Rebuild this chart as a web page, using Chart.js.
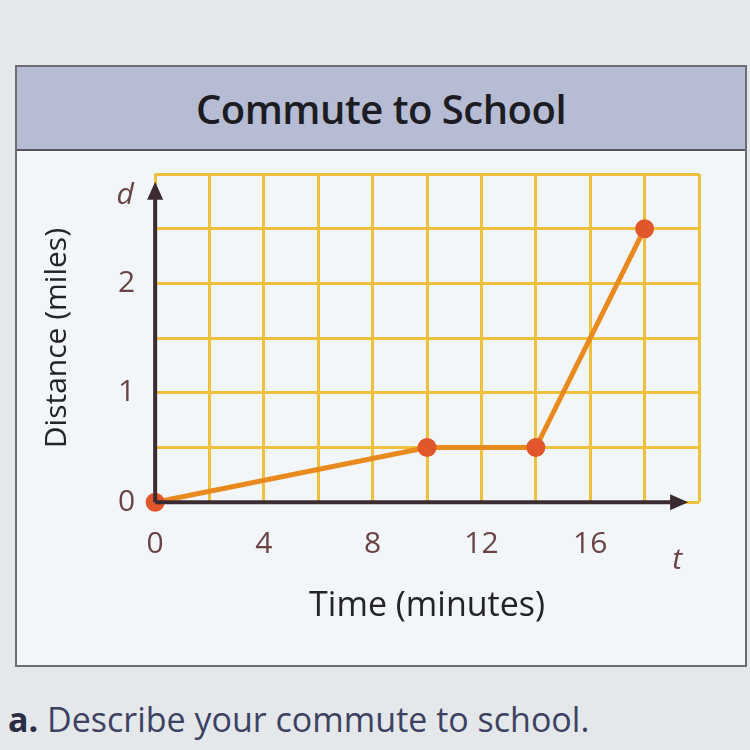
<!DOCTYPE html>
<html>
<head>
<meta charset="utf-8">
<script src="https://cdn.jsdelivr.net/npm/chart.js@4/dist/chart.umd.min.js"></script>
<style>
  html, body { margin: 0; padding: 0; }
  body {
    width: 750px; height: 750px; overflow: hidden; position: relative;
    background: #e4e8eb; font-family: "Open Sans", sans-serif;
  }
  .frame {
    position: absolute; left: 15px; top: 65px; width: 728px; height: 598px;
    border: 2px solid #6d6d72; background: #f3f6f8;
  }
  .band {
    height: 82px; background: #b5bcd3; border-bottom: 2px solid #55555c;
    display: flex; align-items: center; justify-content: center;
    font-size: 40px; font-weight: 600; color: #1c1c22; letter-spacing: -0.5px;
  }
  .plot { position: relative; width: 728px; height: 514px; }
  .question {
    position: absolute; left: 8px; top: 696px; white-space: nowrap;
    font-size: 34px; color: #3d4263;
  }
  .question b { color: #2a2d45; }
</style>
</head>
<body>
<div class="frame">
  <div class="band">Commute to School</div>
  <div class="plot"><canvas id="commuteChart"></canvas></div>
</div>
<div class="question"><b>a.</b> Describe your commute to school.</div>

<script>
// Data
const timeMinutes = [0, 10, 14, 18];
const distanceMiles = [0, 0.5, 0.5, 2.5];
const xLabeledTicks = [0, 4, 8, 12, 16];
const yLabeledTicks = [0, 1, 2];

const gridYellow = '#eec13c';
const axisDark = '#3b2b31';
const tickBrown = '#6a4444';

// Draws the dark axes with arrowheads and the d / t letters
const arrowAxes = {
  id: 'arrowAxes',
  afterDatasetsDraw(chart) {
    const {ctx, scales: {x, y}} = chart;
    const x0 = x.getPixelForValue(0);
    const y0 = y.getPixelForValue(0);
    const yTip = y.getPixelForValue(2.93);
    const xTip = x.getPixelForValue(19.6);
    ctx.save();
    ctx.strokeStyle = axisDark;
    ctx.fillStyle = axisDark;
    ctx.lineWidth = 4;
    ctx.beginPath();
    ctx.moveTo(x0, y0);
    ctx.lineTo(x0, yTip + 14);
    ctx.moveTo(x0, y0);
    ctx.lineTo(xTip - 14, y0);
    ctx.stroke();
    // arrowheads
    ctx.beginPath();
    ctx.moveTo(x0, yTip);
    ctx.lineTo(x0 - 8, yTip + 18);
    ctx.lineTo(x0 + 8, yTip + 18);
    ctx.closePath();
    ctx.fill();
    ctx.beginPath();
    ctx.moveTo(xTip, y0);
    ctx.lineTo(xTip - 18, y0 - 8);
    ctx.lineTo(xTip - 18, y0 + 8);
    ctx.closePath();
    ctx.fill();
    // axis letters
    ctx.fillStyle = tickBrown;
    ctx.font = 'italic 30px "Open Sans", sans-serif';
    ctx.textAlign = 'center';
    ctx.textBaseline = 'middle';
    ctx.fillText('d', x0 - 30, y.getPixelForValue(2.8));
    ctx.fillText('t', x.getPixelForValue(19.2), y0 + 58);
    ctx.restore();
  }
};

new Chart(document.getElementById('commuteChart'), {
  type: 'line',
  data: {
    datasets: [{
      data: timeMinutes.map((t, i) => ({x: t, y: distanceMiles[i]})),
      borderColor: '#e98a1f',
      borderWidth: 5,
      pointRadius: 7,
      pointBackgroundColor: '#e2562b',
      pointBorderColor: '#e2562b',
      tension: 0,
      clip: false
    }]
  },
  options: {
    responsive: true,
    maintainAspectRatio: false,
    animation: false,
    layout: { padding: { top: 0, right: 46, bottom: 38, left: 0 } },
    plugins: { legend: { display: false }, tooltip: { enabled: false } },
    scales: {
      x: {
        type: 'linear', min: 0, max: 20,
        border: { display: false },
        grid: { color: gridYellow, lineWidth: 3, drawTicks: false },
        ticks: {
          stepSize: 2, autoSkip: false, padding: 24, color: tickBrown,
          font: { size: 30, family: '"Open Sans", sans-serif' },
          callback: v => xLabeledTicks.includes(v) ? String(v) : ''
        },
        title: {
          display: true, text: 'Time (minutes)', color: '#25232a',
          font: { size: 34, family: '"Open Sans", sans-serif' },
          padding: { top: 0, bottom: 0 }
        }
      },
      y: {
        min: 0, max: 3,
        border: { display: false },
        grid: { color: gridYellow, lineWidth: 3, drawTicks: false },
        ticks: {
          stepSize: 0.5, autoSkip: false, padding: 20, color: tickBrown,
          font: { size: 30, lineHeight: 0.2, family: '"Open Sans", sans-serif' },
          callback: v => yLabeledTicks.includes(v) ? String(v) : ''
        },
        title: {
          display: true, text: 'Distance (miles)', color: '#25232a',
          font: { size: 30, family: '"Open Sans", sans-serif' },
          padding: { top: 22, bottom: 23 }
        }
      }
    }
  },
  plugins: [arrowAxes]
});
</script>
</body>
</html>
